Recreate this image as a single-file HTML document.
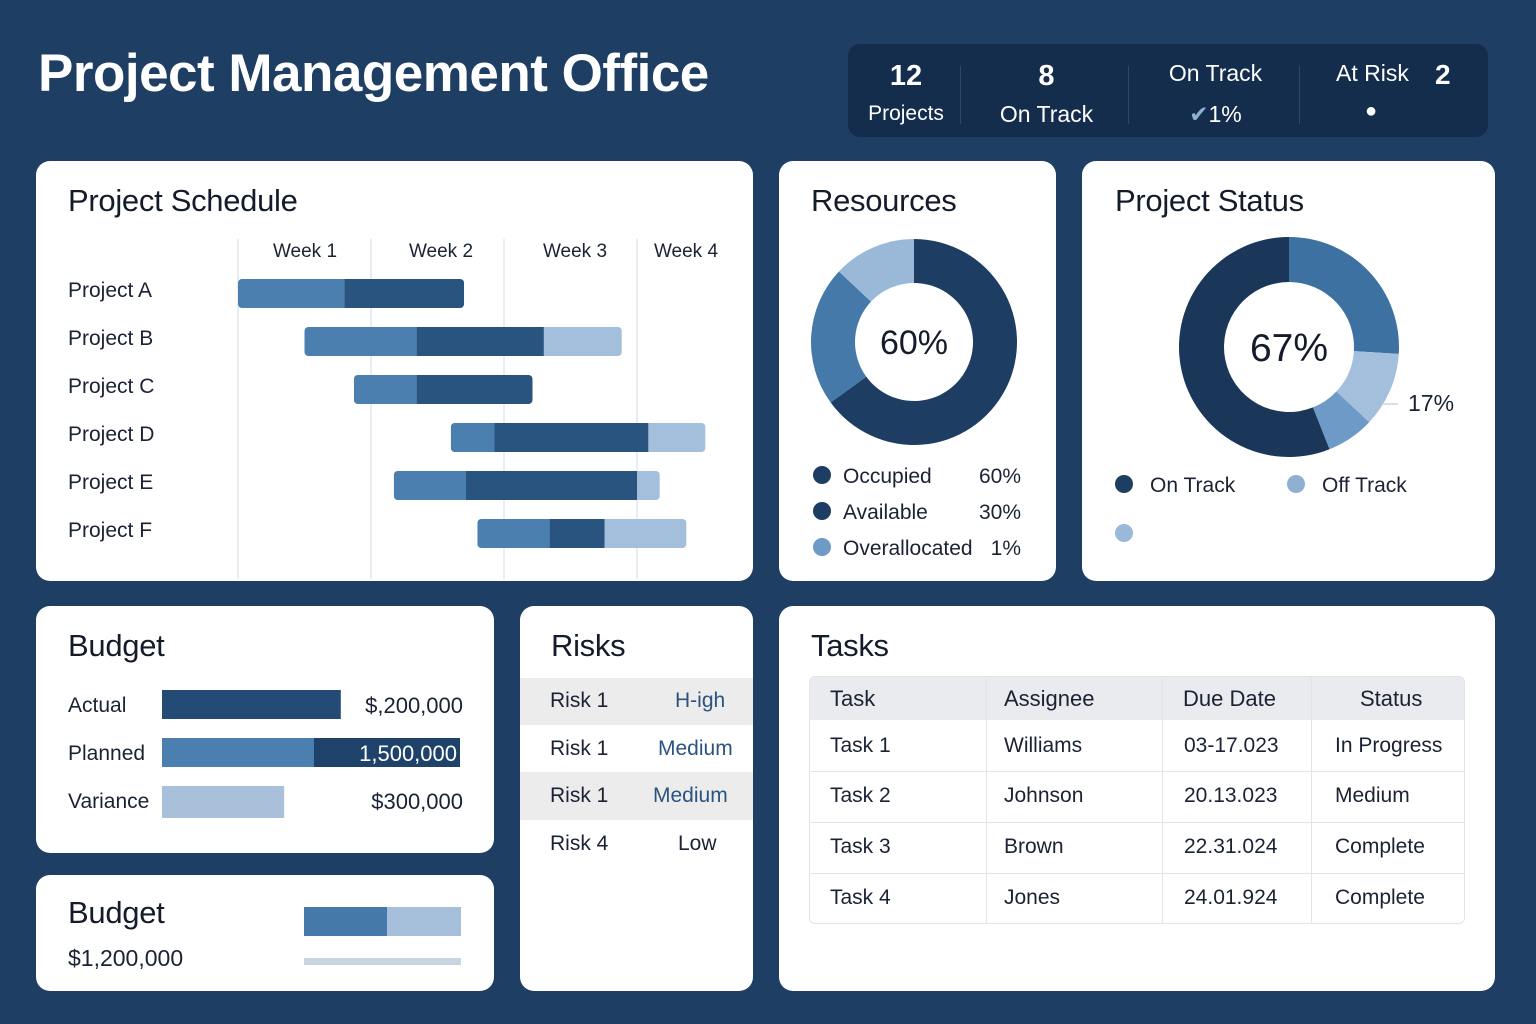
<!DOCTYPE html>
<html><head><meta charset="utf-8">
<style>
*{margin:0;padding:0;box-sizing:border-box}
body{width:1536px;height:1024px;background:#1f3e63;font-family:"Liberation Sans",sans-serif;position:relative;overflow:hidden;color:#1a2233}
.abs{position:absolute}
.card{position:absolute;background:#fff;border-radius:14px}
.h{position:absolute;font-size:31px;color:#141c2b;letter-spacing:-0.3px}
.t{position:absolute;font-size:21px;color:#1a2233;white-space:nowrap}
.w{color:#fff}
</style></head><body>
<div class="abs w" style="left:38px;top:43px;font-size:53px;font-weight:bold;letter-spacing:-0.5px">Project Management Office</div>

<div class="abs" style="left:848px;top:44px;width:640px;height:93px;background:#142d4c;border-radius:12px">
  <div class="abs" style="left:112px;top:22px;width:1px;height:58px;background:#2c4868"></div>
  <div class="abs" style="left:280px;top:22px;width:1px;height:58px;background:#2c4868"></div>
  <div class="abs" style="left:451px;top:22px;width:1px;height:58px;background:#2c4868"></div>
  <div class="abs w" style="left:0;width:116px;text-align:center;top:16px;font-size:29px;font-weight:bold">12</div>
  <div class="abs w" style="left:0;width:116px;text-align:center;top:58px;font-size:21px">Projects</div>
  <div class="abs w" style="left:140px;width:117px;text-align:center;top:16px;font-size:29px;font-weight:bold">8</div>
  <div class="abs w" style="left:140px;width:117px;text-align:center;top:57px;font-size:23px">On Track</div>
  <div class="abs w" style="left:300px;width:135px;text-align:center;top:16px;font-size:23px">On Track</div>
  <div class="abs w" style="left:300px;width:135px;text-align:center;top:57px;font-size:23px"><span style="color:#8fb0d3">✔</span>1%</div>
  <div class="abs w" style="left:488px;top:16px;font-size:23px">At Risk</div>
  <div class="abs w" style="left:587px;top:15px;font-size:28px;font-weight:bold">2</div>
  <div class="abs w" style="left:517px;top:56px;font-size:20px">●</div>
</div>

<!-- Schedule -->
<div class="card" style="left:36px;top:161px;width:717px;height:420px">
  <div class="h" style="left:32px;top:22px">Project Schedule</div>
  <svg id="gantt" class="abs" style="left:0;top:0" width="717" height="420"></svg>
</div>

<!-- Resources -->
<div class="card" style="left:779px;top:161px;width:277px;height:420px">
  <div class="h" style="left:32px;top:22px">Resources</div>
  <svg id="res" class="abs" style="left:0;top:0" width="277" height="420"></svg>
</div>

<!-- Status -->
<div class="card" style="left:1082px;top:161px;width:413px;height:420px">
  <div class="h" style="left:33px;top:22px">Project Status</div>
  <svg id="stat" class="abs" style="left:0;top:0" width="413" height="420"></svg>
</div>

<!-- Budget -->
<div class="card" style="left:36px;top:606px;width:458px;height:247px">
  <div class="h" style="left:32px;top:22px">Budget</div>
  <svg id="bud" class="abs" style="left:0;top:0" width="458" height="247"></svg>
</div>

<div class="card" style="left:36px;top:875px;width:458px;height:116px">
  <div class="h" style="left:32px;top:20px">Budget</div>
  <div class="t" style="left:32px;top:70px;font-size:23px">$1,200,000</div>
  <div class="abs" style="left:268px;top:32px;width:83px;height:29px;background:#4579a9"></div>
  <div class="abs" style="left:351px;top:32px;width:74px;height:29px;background:#a5bfda"></div>
  <div class="abs" style="left:268px;top:83px;width:157px;height:7px;background:#c9d4e1"></div>
</div>

<!-- Risks -->
<div class="card" style="left:520px;top:606px;width:233px;height:385px;overflow:hidden">
  <div class="h" style="left:31px;top:22px">Risks</div>
  <div class="abs" style="left:0;top:72px;width:233px;height:47px;background:#ececed"></div>
  <div class="abs" style="left:0;top:166px;width:233px;height:48px;background:#ececed"></div>
  <div class="t" style="left:30px;top:83px">Risk 1</div>
  <div class="t" style="left:155px;top:83px;color:#2a5480">H-igh</div>
  <div class="t" style="left:30px;top:131px">Risk 1</div>
  <div class="t" style="left:138px;top:131px;color:#2a5480">Medium</div>
  <div class="t" style="left:30px;top:178px">Risk 1</div>
  <div class="t" style="left:133px;top:178px;color:#2a5480">Medium</div>
  <div class="t" style="left:30px;top:226px">Risk 4</div>
  <div class="t" style="left:158px;top:226px">Low</div>
</div>

<!-- Tasks -->
<div class="card" style="left:779px;top:606px;width:716px;height:385px">
  <div class="h" style="left:32px;top:22px">Tasks</div>
  <div class="abs" style="left:30px;top:70px;width:656px;height:248px;border:1px solid #e2e4e8;border-radius:6px;overflow:hidden">
    <div class="abs" style="left:0;top:0;width:656px;height:43px;background:#e9ebee"></div>
    <div class="abs" style="left:176px;top:0;width:1px;height:248px;background:#e2e4e8"></div>
    <div class="abs" style="left:352px;top:0;width:1px;height:248px;background:#e2e4e8"></div>
    <div class="abs" style="left:501px;top:0;width:1px;height:248px;background:#e2e4e8"></div>
    <div class="abs" style="left:0;top:94px;width:656px;height:1px;background:#e2e4e8"></div>
    <div class="abs" style="left:0;top:145px;width:656px;height:1px;background:#e2e4e8"></div>
    <div class="abs" style="left:0;top:196px;width:656px;height:1px;background:#e2e4e8"></div>
    <div class="t" style="left:20px;top:9px;font-size:22px">Task</div>
    <div class="t" style="left:194px;top:9px;font-size:22px">Assignee</div>
    <div class="t" style="left:373px;top:9px;font-size:22px">Due Date</div>
    <div class="t" style="left:550px;top:9px;font-size:22px">Status</div>
    <div class="t" style="left:20px;top:57px">Task 1</div>
    <div class="t" style="left:194px;top:57px">Williams</div>
    <div class="t" style="left:374px;top:57px">03-17.023</div>
    <div class="t" style="left:525px;top:57px">In Progress</div>
    <div class="t" style="left:20px;top:107px">Task 2</div>
    <div class="t" style="left:194px;top:107px">Johnson</div>
    <div class="t" style="left:374px;top:107px">20.13.023</div>
    <div class="t" style="left:525px;top:107px">Medium</div>
    <div class="t" style="left:20px;top:158px">Task 3</div>
    <div class="t" style="left:194px;top:158px">Brown</div>
    <div class="t" style="left:374px;top:158px">22.31.024</div>
    <div class="t" style="left:525px;top:158px">Complete</div>
    <div class="t" style="left:20px;top:209px">Task 4</div>
    <div class="t" style="left:194px;top:209px">Jones</div>
    <div class="t" style="left:374px;top:209px">24.01.924</div>
    <div class="t" style="left:525px;top:209px">Complete</div>
  </div>
</div>

<script>
// ---- Gantt data (days) ----
const ganttProjects = ["Project A","Project B","Project C","Project D","Project E","Project F"];
const ganttSegments = [
  [0,5.6,11.9],
  [3.5,9.4,16.1,20.2],
  [6.1,9.4,15.5],
  [11.2,13.5,21.6,24.6],
  [8.2,12.0,21.0,22.2],
  [12.6,16.4,19.3,23.6]
];
const weekLabels = ["Week 1","Week 2","Week 3","Week 4"];
// ---- Resources ----
const resValues = [65,22,13];
const resLegend = ["Occupied","Available","Overallocated"];
const resLegendValues = ["60%","30%","1%"];
const resCenter = "60%";
// ---- Status ----
const statValues = [26,11,7,56];
const statCenter = "67%";
const statCallout = "17%";
// ---- Budget ----
const budgetCats = ["Actual","Planned","Variance"];
const budgetVals = [0.6,1.0,0.41];
const budgetPlannedSplit = 0.51;
const budgetLabels = ["$,200,000","1,500,000","$300,000"];

const NS="http://www.w3.org/2000/svg";
function mk(parent,tag,attrs,text){const e=document.createElementNS(NS,tag);for(const k in attrs)e.setAttribute(k,attrs[k]);if(text!=null)e.textContent=text;parent.appendChild(e);return e;}
const FONT='"Liberation Sans",sans-serif';

// Gantt
(function(){
  const svg=document.getElementById('gantt');
  const x=d=>202+d*19, y=i=>132+i*48;
  const segCols=["#4a7fb0","#2a5480","#a3bfdb"];
  [0,7,14,21].forEach(d=>{
    const l=mk(svg,'line',{x1:x(d),x2:x(d),y1:78,y2:418,stroke:'#e4e6ea','stroke-width':1.5});
    
    
  });
  const wx=[305,441,575,686];
  weekLabels.forEach((w,i)=>{
    const t=mk(svg,'text',{x:wx[i]-36,y:96,'font-size':19,'font-family':FONT,fill:'#1a2233','text-anchor':'middle'},w);
    
    
  });
  ganttProjects.forEach((p,i)=>{
    const t=mk(svg,'text',{x:32,y:y(i)+4,'font-size':21,'font-family':FONT,fill:'#1a2233'},p);
    
    
    const s=ganttSegments[i];
    const clip=mk(svg,'clipPath',{id:'c'+i});
    mk(clip,'rect',{x:x(s[0]),y:y(i)-14,width:x(s[s.length-1])-x(s[0]),height:29,rx:4});
    const g=mk(svg,'g',{'clip-path':'url(#c'+i+')'});
    for(let k=0;k<s.length-1;k++){
      const r=mk(g,'rect',{x:x(s[k]),y:y(i)-14,width:x(s[k+1])-x(s[k]),height:29,fill:segCols[k]});
      
      
    }
  });
})();

function arc(cx,cy,R,r,a0,a1){
  const p=(rad,a)=>[cx+rad*Math.sin(a),cy-rad*Math.cos(a)];
  const lg=(a1-a0)>Math.PI?1:0;
  const [x0,y0]=p(R,a0),[x1,y1]=p(R,a1),[x2,y2]=p(r,a1),[x3,y3]=p(r,a0);
  return `M${x0},${y0}A${R},${R} 0 ${lg} 1 ${x1},${y1}L${x2},${y2}A${r},${r} 0 ${lg} 0 ${x3},${y3}Z`;
}
function donut(svg,vals,cols,cx,cy,R,r,name){
  const tot=vals.reduce((a,b)=>a+b,0);let a=0;
  vals.forEach((v,i)=>{const a1=a+v/tot*2*Math.PI;
    const pth=mk(svg,'path',{d:arc(cx,cy,R,r,a,a1),fill:cols[i]});
    
    
    a=a1;});
}
// Resources
(function(){
  const svg=document.getElementById('res');
  donut(svg,resValues,["#1d3d63","#4579a9","#9ab8d8"],135,181,103,59,'resources-slice');
  const c=mk(svg,'text',{x:135,y:193,'font-size':34,'font-family':FONT,fill:'#141c2b','text-anchor':'middle'},resCenter);
  
  
  const dc=["#1d3d63","#1d3d63","#6d9ac6"];
  resLegend.forEach((l,i)=>{
    const yy=314+i*36;
    const d=mk(svg,'circle',{cx:43,cy:yy,r:9,fill:dc[i]});
    
    
    const t=mk(svg,'text',{x:64,y:yy+8,'font-size':21,'font-family':FONT,fill:'#1a2233'},l);
    
    
    const v=mk(svg,'text',{x:242,y:yy+8,'font-size':21,'font-family':FONT,fill:'#1a2233','text-anchor':'end'},resLegendValues[i]);
    
    
  });
})();
// Status
(function(){
  const svg=document.getElementById('stat');
  donut(svg,statValues,["#3d71a2","#a3bfdb","#6d9ac6","#1a3659"],207,186,110,65,'status-slice');
  const c=mk(svg,'text',{x:207,y:200,'font-size':39,'font-family':FONT,fill:'#141c2b','text-anchor':'middle'},statCenter);
  
  
  mk(svg,'line',{x1:300,y1:243,x2:316,y2:243,stroke:'#c9d2dd','stroke-width':1.5});
  const k=mk(svg,'text',{x:326,y:250,'font-size':23,'font-family':FONT,fill:'#1a2233'},statCallout);
  
  
  [[42,323,"#1d3d63","On Track"],[214,323,"#8fb0d3","Off Track"],[42,372,"#9ab8d8",""]].forEach(e=>{
    const d=mk(svg,'circle',{cx:e[0],cy:e[1],r:9,fill:e[2]});
    
    
    if(e[3]){const t=mk(svg,'text',{x:e[0]+26,y:e[1]+8,'font-size':21,'font-family':FONT,fill:'#1a2233'},e[3]);
    
    }
  });
})();
// Budget
(function(){
  const svg=document.getElementById('bud');
  const x0=126,W=298,y=i=>84+i*48;
  budgetCats.forEach((c,i)=>{
    const t=mk(svg,'text',{x:32,y:y(i)+22,'font-size':21,'font-family':FONT,fill:'#1a2233'},c);
    
    
    const h=i==2?32:29;
    if(i==1){
      const a=mk(svg,'rect',{x:x0,y:y(i),width:W*budgetVals[i]*budgetPlannedSplit,height:h,fill:'#4a7fb0'});
      
      
      const b=mk(svg,'rect',{x:x0+W*budgetVals[i]*budgetPlannedSplit,y:y(i),width:W*budgetVals[i]*(1-budgetPlannedSplit),height:h,fill:'#1f426b'});
      
      
      const v=mk(svg,'text',{x:x0+W*budgetVals[i]-3,y:y(i)+23,'font-size':22,'font-family':FONT,fill:'#fff','text-anchor':'end'},budgetLabels[i]);
      
      
    } else {
      const r=mk(svg,'rect',{x:x0,y:y(i),width:W*budgetVals[i],height:h,fill:i==0?'#244b75':'#a8c0da'});
      
      
      const v=mk(svg,'text',{x:427,y:y(i)+23,'font-size':22,'font-family':FONT,fill:'#1a2233','text-anchor':'end'},budgetLabels[i]);
      
      
    }
  });
})();
</script>
</body></html>
